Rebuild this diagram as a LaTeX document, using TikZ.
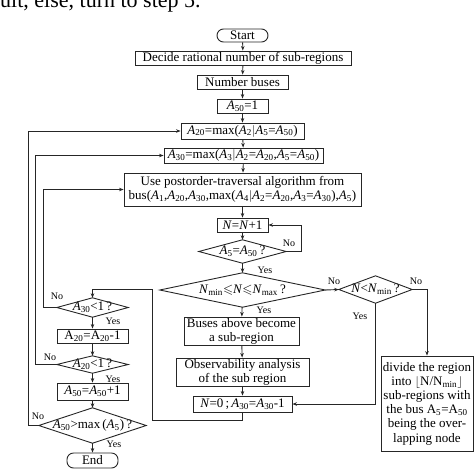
\documentclass[tikz,border=0pt]{standalone}
\usepackage{amssymb}
\usepackage{fontspec}
\setmainfont{Liberation Serif}
\usetikzlibrary{arrows.meta}
\newcommand{\Av}[1]{\textit{A}\textsubscript{#1}}
\newcommand{\Nv}[1]{\textit{N}\textsubscript{#1}}
\begin{document}
\begin{tikzpicture}[x=1pt,y=-1pt,
  ln/.style={draw=black!85,line width=0.9pt},
  arr/.style={ln,-{Stealth[length=4.5pt,width=3.5pt]}},
  box/.style={ln,rectangle,inner sep=0pt,align=center,font=\fontsize{13}{14.2}\selectfont,text=black},
  term/.style={box,rounded corners=6.5pt},
  dia/.style={rectangle,inner sep=0pt,font=\fontsize{13}{14}\selectfont,text=black},
  lab/.style={font=\fontsize{10}{11}\selectfont,inner sep=0pt,text=black}]
\useasboundingbox (0,0) rectangle (474,472);
\node[anchor=base west,inner sep=0pt,font=\fontsize{22}{24}\selectfont] (top) at (0,7) {ult, else, turn to step 5.};
% main column
\node[term,minimum width=51pt,minimum height=13pt] (start) at (242.5,35.5) {Start};
\node[box,minimum width=216pt,minimum height=14pt] (decide) at (243,58) {Decide rational number of sub-regions};
\node[box,minimum width=91pt,minimum height=14pt] (number) at (242.5,82) {Number buses};
\node[box,minimum width=51pt,minimum height=14pt] (a50) at (242.5,106) {\Av{50}=1};
\node[box,minimum width=123pt,minimum height=16pt] (a20) at (242.5,131) {\Av{20}=max(\Av{2}$|$\Av{5}=\Av{50})};
\node[box,minimum width=159pt,minimum height=15pt] (a30) at (243.5,155.5) {\Av{30}=max(\Av{3}$|$\Av{2}=\Av{20},\Av{5}=\Av{50})};
\node[box,minimum width=237pt,minimum height=33pt] (post) at (242.5,189.5) {Use postorder-traversal algorithm from\\bus(\Av{1},\Av{20},\Av{30},max(\Av{4}$|$\Av{2}=\Av{20},\Av{3}=\Av{30}),\Av{5})};
\node[box,minimum width=51pt,minimum height=14pt] (nn) at (242.5,225) {\textit{N}=\textit{N}+1};
\node[dia,minimum width=87pt,minimum height=23pt] (d1) at (242.5,251.5) {\Av{5}=\Av{50}\,?};
\node[dia,minimum width=165pt,minimum height=34pt] (d2) at (242.5,290) {\Nv{min}$\leqslant$\textit{N}$\leqslant$\Nv{max}\,?};
\node[box,minimum width=115pt,minimum height=28pt] (buses) at (241.5,331) {Buses above become\\a sub-region};
\node[box,minimum width=133pt,minimum height=28pt] (obs) at (242.5,372) {Observability analysis\\of the sub region};
\node[box,minimum width=99pt,minimum height=16pt] (n0) at (242.5,404) {\textit{N}=0\,;\,\Av{30}=\Av{30}-1};
\node[dia,minimum width=73pt,minimum height=27pt] (d3) at (375.5,289.5) {\textit{N}<\Nv{min}\,?};
\node[box,minimum width=92pt,minimum height=95pt] (divide) at (427,403.5) {divide the region\\into $\lfloor$N/N\textsubscript{min}$\rfloor$\\sub-regions with\\the bus A\textsubscript{5}=A\textsubscript{50}\\being the over-\\lapping node};
% left column
\node[dia,minimum width=71pt,minimum height=19pt] (dl1) at (92.5,307.5) {\Av{30}<1\,?};
\node[box,minimum width=71pt,minimum height=14pt] (b1) at (92.5,336) {A\textsubscript{20}=A\textsubscript{20}-1};
\node[dia,minimum width=71pt,minimum height=17pt] (dl2) at (92.5,364.5) {\Av{20}<1\,?};
\node[box,minimum width=71pt,minimum height=17pt] (b2) at (92.5,391.5) {\Av{50}=\Av{50}+1};
\node[dia,minimum width=107pt,minimum height=35pt] (dl3) at (92.5,425.5) {\Av{50}>max\,(\Av{5})\,?};
\node[term,minimum width=51pt,minimum height=15pt] (end) at (92.5,460.5) {End};
% diamond outlines
\foreach \d in {d1,d2,d3,dl1,dl2,dl3}
  \draw[ln,line join=miter] (\d.north) -- (\d.east) -- (\d.south) -- (\d.west) -- cycle;
% connectors main
\draw[arr] (start) -- (decide);
\draw[arr] (decide) -- (number);
\draw[arr] (number) -- (a50);
\draw[arr] (a50) -- (a20);
\draw[arr] (a20) -- (a30);
\draw[arr] (a30) -- (post);
\draw[arr] (post) -- (nn);
\draw[arr] (nn) -- (d1);
\draw[arr] (d1) -- (d2);
\draw[arr] (d2) -- (buses);
\draw[arr] (buses) -- (obs);
\draw[arr] (obs) -- (n0);
\draw[arr] (d1.east) -- (301,251.5) -- (301,225) -- (nn.east);
\draw[arr] (d2.east) -- (d3.west);
\draw[arr] (d3.east) -- (divide.north |- d3.east) -- (divide.north);
\draw[arr] (d3.south) -- (d3.south |- n0.east) -- (n0.east);
\draw[arr] (n0.south) -- (242.5,420) -- (152,420) -- (152,289) -- (92.5,289) -- (dl1.north);
\draw[arr] (dl1.west) -- (43,307.5) -- (43,189.5) -- (post.west);
\draw[arr] (dl1) -- (b1);
\draw[arr] (b1) -- (dl2);
\draw[arr] (dl2.west) -- (35,364.5) -- (35,155.5) -- (a30.west);
\draw[arr] (dl2) -- (b2);
\draw[arr] (b2) -- (dl3);
\draw[arr] (dl3.west) -- (28,425.5) -- (28,131) -- (a20.west);
\draw[arr] (dl3) -- (end);
% labels
\node[lab] (l1) at (289,243) {No};
\node[lab] (l2) at (265,270) {Yes};
\node[lab] (l3) at (264,310.5) {Yes};
\node[lab] (l4) at (334,281) {No};
\node[lab] (l5) at (416,281) {No};
\node[lab] (l6) at (360,316) {Yes};
\node[lab] (l7) at (57,296) {No};
\node[lab] (l8) at (113,321) {Yes};
\node[lab] (l9) at (50,357) {No};
\node[lab] (l10) at (113,379) {Yes};
\node[lab] (l11) at (38,416) {No};
\node[lab] (l12) at (114,444) {Yes};
\end{tikzpicture}
\end{document}
